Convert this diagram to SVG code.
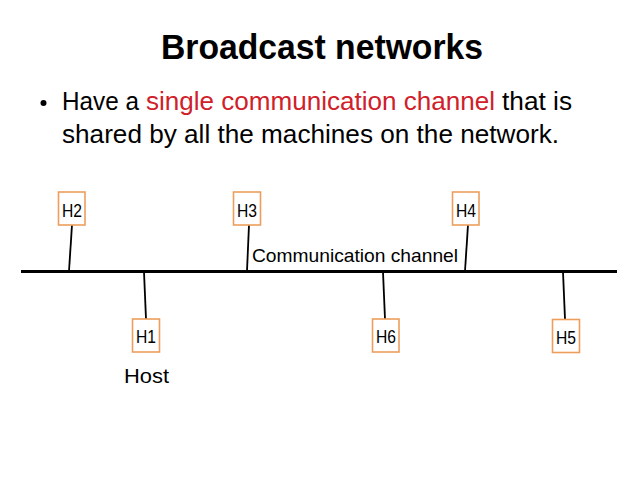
<svg xmlns="http://www.w3.org/2000/svg" width="638" height="479" viewBox="0 0 638 479">
  <style>
    text { font-family: "Liberation Sans", Arial, sans-serif; fill: #000; }
    .title { font-size: 35px; font-weight: bold; }
    .body { font-size: 25px; }
    .red { fill: #D0202A; }
    .box { fill: #fff; stroke: #EE9E5C; stroke-width: 1.6; }
    .lbl { font-size: 17.5px; text-anchor: middle; }
    .wire { stroke: #000; stroke-width: 1.8; fill: none; }
    .bus { stroke: #000; stroke-width: 3.2; fill: none; }
  </style>
  <rect width="638" height="479" fill="#fff"/>
  <text class="title" x="161" y="59" textLength="322" lengthAdjust="spacingAndGlyphs">Broadcast networks</text>
  <circle cx="43.5" cy="103" r="3" fill="#000"/>
  <text class="body" x="62" y="110" textLength="77" lengthAdjust="spacingAndGlyphs">Have a</text>
  <text class="body red" x="146" y="110" textLength="349" lengthAdjust="spacingAndGlyphs">single communication channel</text>
  <text class="body" x="502" y="110" textLength="70" lengthAdjust="spacingAndGlyphs">that is</text>
  <text class="body" x="62" y="143" textLength="497" lengthAdjust="spacingAndGlyphs">shared by all the machines on the network.</text>

  <g id="connectors">
    <line class="bus" x1="21" y1="271.5" x2="617" y2="271.5"/>
    <line class="wire" x1="72" y1="225" x2="69" y2="271"/>
    <line class="wire" x1="249" y1="225" x2="247" y2="271"/>
    <line class="wire" x1="468" y1="225" x2="465" y2="271"/>
    <line class="wire" x1="144" y1="272" x2="146" y2="319"/>
    <line class="wire" x1="383" y1="272" x2="385" y2="319"/>
    <line class="wire" x1="563" y1="272" x2="565" y2="319"/>
  </g>

  <text x="252" y="262" font-size="18.5" textLength="206" lengthAdjust="spacingAndGlyphs">Communication channel</text>

  <g id="H2">
    <rect class="box" x="58.5" y="192" width="26.5" height="33"/>
    <text class="lbl" x="72" y="216.5" textLength="20" lengthAdjust="spacingAndGlyphs">H2</text>
  </g>
  <g id="H3">
    <rect class="box" x="233.5" y="192" width="27" height="33"/>
    <text class="lbl" x="247" y="216.5" textLength="20" lengthAdjust="spacingAndGlyphs">H3</text>
  </g>
  <g id="H4">
    <rect class="box" x="452.5" y="192" width="26.5" height="33"/>
    <text class="lbl" x="466" y="216.5" textLength="20" lengthAdjust="spacingAndGlyphs">H4</text>
  </g>
  <g id="H1">
    <rect class="box" x="132.5" y="319" width="27" height="33"/>
    <text class="lbl" x="146" y="343" textLength="20" lengthAdjust="spacingAndGlyphs">H1</text>
  </g>
  <g id="H6">
    <rect class="box" x="372.5" y="319" width="26.5" height="33"/>
    <text class="lbl" x="386" y="343" textLength="20" lengthAdjust="spacingAndGlyphs">H6</text>
  </g>
  <g id="H5">
    <rect class="box" x="552.5" y="319.5" width="27" height="33"/>
    <text class="lbl" x="566" y="343.5" textLength="20" lengthAdjust="spacingAndGlyphs">H5</text>
  </g>
  <text x="124" y="383" font-size="21" textLength="45" lengthAdjust="spacingAndGlyphs">Host</text>
</svg>
